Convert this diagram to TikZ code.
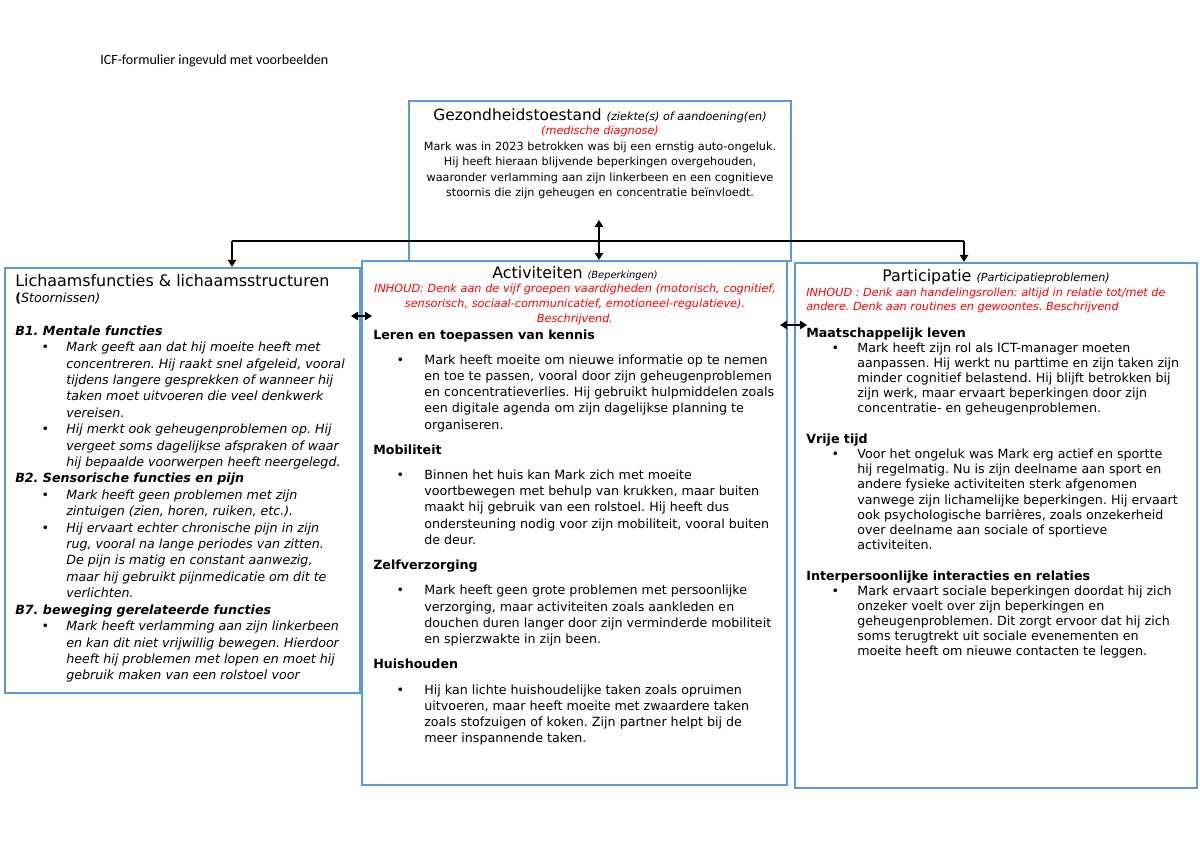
\documentclass[tikz,border=0pt]{standalone}
\usepackage{fontspec}
\usepackage{enumitem}
\setmainfont{DejaVu Sans}
\newfontfamily\titelfont{Carlito}
\usetikzlibrary{arrows.meta,positioning,fit}
\definecolor{icfblauw}{RGB}{91,155,213}
\definecolor{icfrood}{RGB}{255,0,0}
\setlist[itemize]{label=\textbullet,nosep,leftmargin=36.3pt}
\frenchspacing
\tikzset{
  icfbox/.style={draw=icfblauw,line width=1.6pt,fill=white,inner sep=0pt},
  tekst/.style={inner sep=0pt,anchor=base west},
  kop/.style={inner sep=0pt,anchor=base},
  pijl/.style={line width=1pt,-{Triangle[length=5pt,width=6pt]}},
  dubbelpijl/.style={line width=1pt,{Triangle[length=5pt,width=6pt]}-{Triangle[length=5pt,width=6pt]}},
}

\begin{document}
\begin{tikzpicture}[x=0.025cm,y=-0.025cm]
\useasboundingbox (0,0) rectangle (1200,849);
\node[tekst,font=\titelfont\fontsize{10}{12}\selectfont] (titel) at (100,64.5) {ICF-formulier ingevuld met voorbeelden};

\node[icfbox,fit={(409,101)(791,261)}] (gezond) {};
\node[icfbox,fit={(5,268)(360,693)}] (lichaam) {};
\node[icfbox,fit={(795,263)(1197,788)}] (participatie) {};
\node[icfbox,fit={(362,261)(787,785)}] (activiteiten) {};

% gezondheidstoestand
\node[kop,font=\fontsize{11}{13}\selectfont] (gezondkop) at (600,120) {Gezondheidstoestand {\itshape\fontsize{8}{10}\selectfont(ziekte(s) of aandoening(en)}};
\node[kop,font=\itshape\fontsize{8}{10}\selectfont,text=icfrood] (diagnose) at (600,134.5) {(medische diagnose)};
\node[kop,font=\fontsize{8}{11}\selectfont,text width=9.4cm,align=center] (gezondtekst) at (600,150.5) {Mark was in 2023 betrokken was bij een ernstig auto-ongeluk.\\
Hij heeft hieraan blijvende beperkingen overgehouden,\\
waaronder verlamming aan zijn linkerbeen en een cognitieve\\
stoornis die zijn geheugen en concentratie beïnvloedt.};

% lichaamsfuncties
\node[tekst] (lichaamtekst) at (15,286) {\begin{minipage}[t]{8.9cm}\raggedright
{\fontsize{11.3}{13}\selectfont Lichaamsfuncties \& lichaamsstructuren\par}
\fontsize{9}{11.67}\selectfont
{\bfseries(}\textit{Stoornissen)}\par
\vspace{11.67pt}
\itshape
\textbf{B1. Mentale functies}
\begin{itemize}[labelsep=12.3pt]
\item Mark geeft aan dat hij moeite heeft met\\
concentreren. Hij raakt snel afgeleid, vooral\\
tijdens langere gesprekken of wanneer hij\\
taken moet uitvoeren die veel denkwerk\\
vereisen.
\item Hij merkt ook geheugenproblemen op. Hij\\
vergeet soms dagelijkse afspraken of waar\\
hij bepaalde voorwerpen heeft neergelegd.
\end{itemize}
\textbf{B2. Sensorische functies en pijn}
\begin{itemize}[labelsep=12.3pt]
\item Mark heeft geen problemen met zijn\\
zintuigen (zien, horen, ruiken, etc.).
\item Hij ervaart echter chronische pijn in zijn\\
rug, vooral na lange periodes van zitten.\\
De pijn is matig en constant aanwezig,\\
maar hij gebruikt pijnmedicatie om dit te\\
verlichten.
\end{itemize}
\textbf{B7. beweging gerelateerde functies}
\begin{itemize}[labelsep=12.3pt]
\item Mark heeft verlamming aan zijn linkerbeen\\
en kan dit niet vrijwillig bewegen. Hierdoor\\
heeft hij problemen met lopen en moet hij\\
gebruik maken van een rolstoel voor
\end{itemize}
\end{minipage}};

% activiteiten
\node[kop,font=\fontsize{11.3}{13}\selectfont] (activiteitenkop) at (575,278) {Activiteiten {\itshape\fontsize{7}{9}\selectfont(Beperkingen)}};
\node[kop,font=\itshape\fontsize{8}{10.7}\selectfont,text=icfrood,text width=10.4cm,align=center] (activiteitenrood) at (575,292.5) {INHOUD: Denk aan de vijf groepen vaardigheden (motorisch, cognitief,\\
sensorisch, sociaal-communicatief, emotioneel-regulatieve).\\
Beschrijvend.};
\node[tekst] (activiteitentekst) at (373,339) {\begin{minipage}[t]{10.3cm}\raggedright
\fontsize{9}{11.5}\selectfont
\textbf{Leren en toepassen van kennis}
\begin{itemize}[topsep=6.5pt,labelsep=14.4pt]
\item Mark heeft moeite om nieuwe informatie op te nemen\\
en toe te passen, vooral door zijn geheugenproblemen\\
en concentratieverlies. Hij gebruikt hulpmiddelen zoals\\
een digitale agenda om zijn dagelijkse planning te\\
organiseren.
\end{itemize}
\textbf{Mobiliteit}
\begin{itemize}[topsep=6.5pt,labelsep=14.4pt]
\item Binnen het huis kan Mark zich met moeite\\
voortbewegen met behulp van krukken, maar buiten\\
maakt hij gebruik van een rolstoel. Hij heeft dus\\
ondersteuning nodig voor zijn mobiliteit, vooral buiten\\
de deur.
\end{itemize}
\textbf{Zelfverzorging}
\begin{itemize}[topsep=6.5pt,labelsep=14.4pt]
\item Mark heeft geen grote problemen met persoonlijke\\
verzorging, maar activiteiten zoals aankleden en\\
douchen duren langer door zijn verminderde mobiliteit\\
en spierzwakte in zijn been.
\end{itemize}
\textbf{Huishouden}
\begin{itemize}[topsep=6.5pt,labelsep=14.4pt]
\item Hij kan lichte huishoudelijke taken zoals opruimen\\
uitvoeren, maar heeft moeite met zwaardere taken\\
zoals stofzuigen of koken. Zijn partner helpt bij de\\
meer inspannende taken.
\end{itemize}
\end{minipage}};

% participatie
\node[kop,font=\fontsize{11.3}{13}\selectfont] (participatiekop) at (996,281) {Participatie {\itshape\fontsize{8}{10}\selectfont(Participatieproblemen)}};
\node[tekst,font=\itshape\fontsize{8}{10}\selectfont,text=icfrood] (participatierood) at (806,296) {\begin{minipage}[t]{9.8cm}\raggedright
INHOUD : Denk aan handelingsrollen: altijd in relatie tot/met de\\
andere. Denk aan routines en gewoontes. Beschrijvend
\end{minipage}};
\node[tekst] (participatietekst) at (806,337) {\begin{minipage}[t]{9.8cm}\raggedright
\fontsize{9}{10.8}\selectfont
\textbf{Maatschappelijk leven}
\begin{itemize}[labelsep=13pt]
\item Mark heeft zijn rol als ICT-manager moeten\\
aanpassen. Hij werkt nu parttime en zijn taken zijn\\
minder cognitief belastend. Hij blijft betrokken bij\\
zijn werk, maar ervaart beperkingen door zijn\\
concentratie- en geheugenproblemen.
\end{itemize}
\vspace{10.8pt}
\textbf{Vrije tijd}
\begin{itemize}[labelsep=13pt]
\item Voor het ongeluk was Mark erg actief en sportte\\
hij regelmatig. Nu is zijn deelname aan sport en\\
andere fysieke activiteiten sterk afgenomen\\
vanwege zijn lichamelijke beperkingen. Hij ervaart\\
ook psychologische barrières, zoals onzekerheid\\
over deelname aan sociale of sportieve\\
activiteiten.
\end{itemize}
\vspace{10.8pt}
\textbf{Interpersoonlijke interacties en relaties}
\begin{itemize}[labelsep=13pt]
\item Mark ervaart sociale beperkingen doordat hij zich\\
onzeker voelt over zijn beperkingen en\\
geheugenproblemen. Dit zorgt ervoor dat hij zich\\
soms terugtrekt uit sociale evenementen en\\
moeite heeft om nieuwe contacten te leggen.
\end{itemize}
\end{minipage}};

% verbindingen
\coordinate (splitsL) at (232,241);
\coordinate (splitsR) at (964,241);
\coordinate (gezondpunt) at (599,220);
\coordinate (linksA) at (351,316);
\coordinate (linksB) at (372,316);
\coordinate (rechtsA) at (780,325);
\coordinate (rechtsB) at (807,325);
\draw[line width=1pt] (splitsL) -- (splitsR);
\draw[pijl] (splitsL) -- (splitsL |- lichaam.north);
\draw[pijl] (splitsR) -- (splitsR |- participatie.north);
\draw[dubbelpijl] (gezondpunt) -- (gezondpunt |- activiteiten.north);
\draw[dubbelpijl] (linksA) -- (linksB);
\draw[dubbelpijl] (rechtsA) -- (rechtsB);
\end{tikzpicture}
\end{document}
